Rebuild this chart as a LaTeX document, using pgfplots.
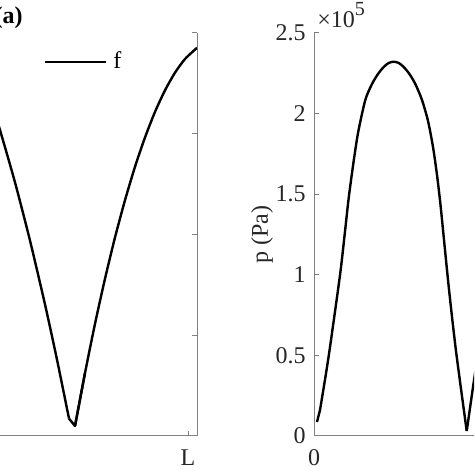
\documentclass[border=0pt]{standalone}
\usepackage{fontspec}
\setmainfont{Liberation Serif}
\usepackage{pgfplots}
\pgfplotsset{compat=1.18}
\begin{document}
\fontsize{12}{14}\selectfont
\begin{tikzpicture}
\path[use as bounding box] (0,0) rectangle (237pt,237pt);
\clip (0,0) rectangle (237pt,237pt);
% left panel
\begin{axis}[
  at={(-65pt,19pt)}, anchor=south west,
  scale only axis, width=163.5pt, height=201.5pt,
  xmin=0, xmax=1.0283, ymin=0, ymax=1,
  axis x line*=bottom, axis y line*=right,
  axis line style={black!50, line width=0.5pt},
  tick style={black!50, line width=0.5pt},
  major tick length=2.5pt, tick align=inside,
  xtick={1}, xticklabels={L},
  xticklabel style={yshift=-2.5pt, text=black!85},
  ytick={0,0.25,0.5,0.75,1}, yticklabels={},
  legend image code/.code={\draw[#1] (0pt,0pt) -- (30.5pt,0pt);},
  legend style={draw=none, fill=none, inner sep=0pt, outer sep=0pt,
    at={(0.5321,0.928)}, anchor=west, nodes={inner sep=0pt}, column sep=3pt},
]
\addplot[black, line width=1.2pt, line join=round, smooth, tension=0.4] coordinates {
(0.3962,0.7916) (0.4088,0.7593) (0.4560,0.6293) (0.5031,0.4851) (0.5503,0.3266)
(0.5881,0.1893) (0.6258,0.0432)
};
\addlegendentry{f}
\addplot[black, line width=1.2pt, line join=round, forget plot] coordinates {
(0.6258,0.0432) (0.6447,0.0248) (0.6761,0.1563)
};
\addplot[black, line width=1.2pt, line join=round, smooth, tension=0.4, forget plot] coordinates {
(0.6447,0.0248) (0.6761,0.1563) (0.7075,0.2782) (0.7390,0.3903) (0.7704,0.4926)
(0.8019,0.5851) (0.8333,0.6680) (0.8648,0.7409) (0.8962,0.8042) (0.9277,0.8578)
(0.9591,0.9015) (0.9906,0.9355) (1.0283,0.9633)
};
\end{axis}
% right panel
\begin{axis}[
  at={(157pt,19pt)}, anchor=south west,
  scale only axis, width=163.5pt, height=201.5pt,
  xmin=0, xmax=1.0283, ymin=0, ymax=250000,
  axis x line*=bottom, axis y line*=left,
  axis line style={black!50, line width=0.5pt},
  tick style={black!50, line width=0.5pt},
  major tick length=2.5pt, tick align=inside,
  xtick={0}, xticklabels={0},
  xticklabel style={yshift=-2.5pt, text=black!85},
  scaled y ticks=false,
  ytick={0,50000,100000,150000,200000,250000},
  yticklabels={0,0.5,1,1.5,2,2.5},
  yticklabel style={text=black!85},
  ylabel={p (Pa)},
  ylabel style={at={(axis description cs:-0.159,0.5)}, anchor=center, text=black!85},
]
\addplot[black, line width=1.2pt, line join=round] coordinates {
(0.0094,8685) (0.0189,16129)
};
\addplot[black, line width=1.2pt, line join=round, smooth, tension=0.45] coordinates {
(0.0189,16129) (0.0462,49628) (0.0818,99876) (0.0959,124070)
(0.1091,147643) (0.1226,167495) (0.1384,187966) (0.1613,208438) (0.1824,218363)
(0.2013,224567) (0.2192,228909) (0.2349,231391) (0.2506,232197) (0.2664,231391)
(0.2821,228909) (0.3000,224567) (0.3186,218363) (0.3396,208438) (0.3585,195410)
(0.3742,179281) (0.3868,161911) (0.3978,143301) (0.4088,121589) (0.4214,96775)
(0.4340,73822) (0.4465,52730) (0.4623,29156) (0.4802,3102)
};
\addplot[black, line width=1.2pt, line join=round] coordinates {
(0.4802,3102) (0.5000,30397) (0.5220,59554)
};
\end{axis}
\node[anchor=base west, inner sep=0pt, text=black!85] at (158.5pt,223pt) {×10\raisebox{6pt}{\fontsize{10}{10}\selectfont 5}};
\node[anchor=base east, inner sep=0pt, font=\bfseries] at (11.5pt,225pt) {(a)};
\end{tikzpicture}
\end{document}
